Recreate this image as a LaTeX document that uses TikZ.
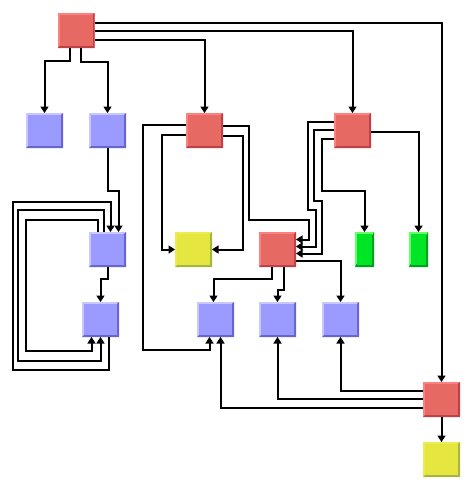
\documentclass[tikz,border=0pt]{standalone}
\usetikzlibrary{arrows.meta}
\definecolor{rf}{HTML}{E66A63}\definecolor{rl}{HTML}{FF8080}\definecolor{rd}{HTML}{C04048}
\definecolor{bf}{HTML}{9B9BFF}\definecolor{bl}{HTML}{C8C8FF}\definecolor{bd}{HTML}{6666CC}
\definecolor{yf}{HTML}{E6E640}\definecolor{yl}{HTML}{ECEC50}\definecolor{yd}{HTML}{A5B540}
\definecolor{gf}{HTML}{00E626}\definecolor{gl}{HTML}{66FF66}\definecolor{gd}{HTML}{00A020}
\tikzset{
  bev/.style n args={3}{minimum width=37pt, minimum height=35pt, inner sep=0pt, outer sep=0pt,
    path picture={
      \fill[#2] (path picture bounding box.south west) rectangle (path picture bounding box.north east);
      \fill[#3] (path picture bounding box.south west) -- (path picture bounding box.south east) -- (path picture bounding box.north east) -- cycle;
      \fill[#1] ([shift={(2pt,2pt)}]path picture bounding box.south west) rectangle ([shift={(-2pt,-2pt)}]path picture bounding box.north east);
    }},
  rednode/.style={bev={rf}{rl}{rd}},
  bluenode/.style={bev={bf}{bl}{bd}},
  yellownode/.style={bev={yf}{yl}{yd}},
  greennode/.style={bev={gf}{gl}{gd}, minimum width=19pt},
  arr/.style={draw=black, line width=2pt, -{Triangle[width=8pt,length=6.5pt]}},
}
\begin{document}
\begin{tikzpicture}[x=1pt,y=-1pt]
\useasboundingbox (0,0) rectangle (470,491);
\node[rednode] (R0) at (76,30.5) {};
\node[bluenode] (B1) at (44.5,130.5) {};
\node[bluenode] (B2) at (107.5,130.5) {};
\node[rednode] (R1) at (204.5,130.5) {};
\node[rednode] (R2) at (352.5,130.5) {};
\node[bluenode] (B3) at (107.5,249.5) {};
\node[yellownode] (Y1) at (193.5,249.5) {};
\node[rednode] (R3) at (277.5,249.5) {};
\node[greennode] (G1) at (364.5,249.5) {};
\node[greennode] (G2) at (418.5,249.5) {};
\node[bluenode] (B4) at (100.5,319.5) {};
\node[bluenode] (B5) at (215.5,319.5) {};
\node[bluenode] (B6) at (277.5,319.5) {};
\node[bluenode] (B7) at (340.5,319.5) {};
\node[rednode] (R4) at (441.5,399.5) {};
\node[yellownode] (Y2) at (441.5,459.5) {};

% from R0
\draw[arr] ([xshift=-6.5pt]R0.south) -- (69.5,60.5) -| (B1.north);
\draw[arr] ([xshift=4.5pt]R0.south) -- (80.5,61.5) -| (B2.north);
\draw[arr] ([yshift=-9pt]R0.east) -| (R1.north);
\draw[arr] (R0.east) -| (R2.north);
\draw[arr] ([yshift=8pt]R0.east) -| (R4.north);
% left cluster
\draw[arr] (B2.south) -- (107.5,190.5) -| ([xshift=11pt]B3.north);
\draw[arr] ([xshift=8pt]B4.south) -- (108.5,369.5) -- (12.5,369.5) -- (12.5,201.5) -| ([xshift=3pt]B3.north);
\draw[arr] ([xshift=-4pt]B3.north) -- (103.5,209.5) -- (17.5,209.5) -- (17.5,360.5) -| (B4.south);
\draw[arr] ([xshift=-10pt]B3.north) -- (97.5,219.5) -- (25.5,219.5) -- (25.5,350.5) -| ([xshift=-9pt]B4.south);
\draw[arr] (B3.south) -- (107.5,278.5) -| (B4.north);
% from R1
\draw[arr] ([yshift=-4pt]R1.west) -- (161.5,134.5) |- (Y1.west);
\draw[arr] ([yshift=-5pt]R1.east) -- (242.5,135.5) |- (Y1.east);
\draw[arr] ([yshift=6pt]R1.west) -- (142.5,124.5) -- (142.5,349.5) -| ([xshift=-6pt]B5.south);
\draw[arr] ([yshift=5pt]R1.east) -- (248.5,125.5) -- (248.5,219.5) -- (308.5,219.5) |- ([yshift=10pt]R3.east);
% from R2
\draw[arr] ([yshift=9pt]R2.west) -- (307.5,121.5) -- (307.5,209.5) -- (315.5,209.5) |- ([yshift=3pt]R3.east);
\draw[arr] ([yshift=1pt]R2.west) -- (313.5,129.5) -- (313.5,200.5) -- (321.5,200.5) |- ([yshift=-4pt]R3.east);
\draw[arr] ([yshift=-8pt]R2.west) -- (321.5,138.5) -- (321.5,190.5) -| (G1.north);
\draw[arr] ([yshift=-1pt]R2.east) -| (G2.north);
% from R3
\draw[arr] ([xshift=-6pt]R3.south) -- (271.5,278.5) -| ([xshift=-2pt]B5.north);
\draw[arr] ([xshift=6pt]R3.south) -- (283.5,289.5) -| (B6.north);
\draw[arr] ([yshift=-11pt]R3.east) -| (B7.north);
% from R4
\draw[arr] ([yshift=9pt]R4.west) -| (B7.south);
\draw[arr] ([yshift=1pt]R4.west) -| (B6.south);
\draw[arr] ([yshift=-8pt]R4.west) -| ([xshift=5pt]B5.south);
\draw[arr] (R4.south) -- (Y2.north);
\end{tikzpicture}
\end{document}
